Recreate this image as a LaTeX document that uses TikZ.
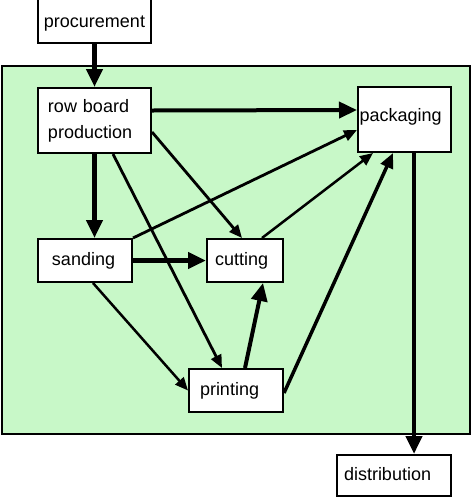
\documentclass[tikz,border=0pt]{standalone}
\usepackage{fontspec}
\setmainfont{Liberation Sans}
\usetikzlibrary{arrows.meta}
\definecolor{bggreen}{RGB}{200,248,200}
\begin{document}
\begin{tikzpicture}[x=1pt,y=-1pt,
  box/.style={draw, line width=2pt, fill=white, inner ysep=0pt, align=left,
    font=\fontsize{18}{26}\selectfont},
  one/.style={text height=13pt, text depth=4pt},
  tk/.style={line width=4.5pt, -{Triangle[length=18pt,width=16pt]}},
  md/.style={line width=3.5pt, -{Triangle[length=15pt,width=13pt]}},
  tn/.style={line width=2.8pt, -{Triangle[length=13pt,width=11pt]}}]
\useasboundingbox (0,0) rectangle (474,499);
\fill[white] (0,0) rectangle (474,499);
\draw[line width=2pt, fill=bggreen] (1.5,66) rectangle (470,434);

\node[box, minimum width=113pt, minimum height=52pt, text width=113pt, inner xsep=0pt,
  align=center, text height=36pt, text depth=16pt] (proc) at (94.5,17) {procurement};
\node[box, minimum width=113pt, minimum height=65pt, text width=93pt, inner xsep=10pt]
  (rbp) at (94.5,120.5) {row board\\production};
\node[box, minimum width=93pt, minimum height=65pt, text width=90pt, inner xsep=1.5pt,
  text height=34pt, text depth=31pt] (pack) at (404.5,119.5) {packaging};
\node[box, one, minimum width=94pt, minimum height=43pt, text width=66pt, inner xsep=14pt]
  (sand) at (85,260.5) {sanding};
\node[box, one, minimum width=76pt, minimum height=43pt, text width=60pt, inner xsep=8pt]
  (cut) at (245,260.5) {cutting};
\node[box, one, minimum width=94pt, minimum height=43pt, text width=72pt, inner xsep=11pt]
  (print) at (236,390.5) {printing};
\node[box, one, minimum width=114pt, minimum height=41pt, text width=100pt, inner xsep=7pt]
  (dist) at (394,475.5) {distribution};

\draw[tk] (proc.south) -- (rbp.north);
\draw[tk, line width=4pt] ([yshift=10pt]rbp.east) -- ([yshift=9.5pt]pack.west);
\draw[tk, line width=5pt] (rbp.south) -- (rbp.south |- sand.north);
\draw[tn] ([yshift=-11.5pt]rbp.east) -- ([xshift=-3pt]cut.north);
\draw[tn] ([xshift=18.5pt]rbp.south) -- ([xshift=-14pt]print.north);
\draw[tn] (sand.north east) -- ([yshift=-10.5pt]pack.west);
\draw[tk, line width=5pt] (sand.east) -- (cut.west);
\draw[tn, line width=2.5pt] ([xshift=8pt]sand.south) -- (print.west);
\draw[tn, line width=2.5pt] ([xshift=17pt]cut.north) -- ([xshift=-31.5pt]pack.south);
\draw[tk, line width=4pt] ([xshift=9pt]print.north) -- ([xshift=18pt]cut.south);
\draw[md] ([yshift=-2.5pt]print.east) -- ([xshift=-11.5pt]pack.south);
\draw[tk] ([xshift=9.5pt]pack.south) -- ([xshift=9.5pt]pack.south |- dist.north);
\end{tikzpicture}
\end{document}
